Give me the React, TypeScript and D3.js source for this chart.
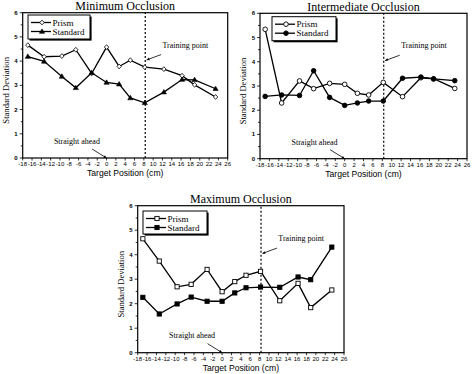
import * as React from 'react';
import * as d3 from 'd3';

// target positions (cm), shared by all three conditions
const targets = [-16.9, -13.4, -9.6, -6.6, -3.2, 0, 2.7, 5.1, 8.2, 12.3, 16.2, 18.9, 23.4];
const xTicks = d3.range(-18, 27, 2);
const yTicks = [0, 1, 2, 3, 4, 5, 6];
const trainingPoint = 8.3;

const minPrism = [4.66, 4.18, 4.21, 4.47, 3.49, 4.58, 3.78, 4.04, 3.75, 3.67, 3.4, 3.02, 2.52];
const minStandard = [4.19, 3.99, 3.37, 2.9, 3.52, 3.12, 3.05, 2.48, 2.28, 2.72, 3.24, 3.23, 2.86];

const intPrism = [5.34, 2.3, 3.21, 2.89, 3.11, 3.07, 2.7, 2.63, 3.15, 2.56, 3.34, 3.3, 2.9];
const intStandard = [2.57, 2.63, 2.61, 3.63, 2.53, 2.2, 2.3, 2.38, 2.38, 3.32, 3.37, 3.29, 3.22];

const maxPrism = [4.65, 3.74, 2.69, 2.79, 3.4, 2.49, 2.9, 3.16, 3.32, 2.12, 2.83, 1.84, 2.56];
const maxStandard = [2.26, 1.58, 1.99, 2.27, 2.1, 2.1, 2.44, 2.65, 2.68, 2.67, 3.09, 2.98, 4.31];

type Shape = 'diamond' | 'triangle' | 'circle' | 'square';

const serif = '"Liberation Serif", "DejaVu Serif", serif';
const sans = '"Liberation Sans", Arial, sans-serif';

function Marker({ shape, x, y, filled }: { shape: Shape; x: number; y: number; filled: boolean }) {
  const fill = filled ? '#000' : '#fff';
  if (shape === 'circle') {
    return <circle cx={x} cy={y} r={2.3} fill={fill} stroke="#000" strokeWidth={0.9} />;
  }
  if (shape === 'square') {
    return <rect x={x - 2.1} y={y - 2.1} width={4.2} height={4.2} fill={fill} stroke="#000" strokeWidth={0.9} />;
  }
  if (shape === 'triangle') {
    return <path d={`M${x},${y - 2.6}L${x + 2.6},${y + 1.8}L${x - 2.6},${y + 1.8}Z`} fill={fill} stroke="#000" strokeWidth={0.6} />;
  }
  return <path d={`M${x},${y - 2.4}L${x + 2.2},${y}L${x},${y + 2.4}L${x - 2.2},${y}Z`} fill={fill} stroke="#000" strokeWidth={0.8} />;
}

type PanelProps = {
  title: string;
  left: number; top: number; right: number; bottom: number;
  prism: number[]; standard: number[];
  prismShape: Shape; standardShape: Shape;
  legendDx: number; legendDy: number; legendW: number; legendH: number;
};

function Panel(p: PanelProps) {
  const x = d3.scaleLinear().domain([-18, 26]).range([p.left, p.right]);
  const y = d3.scaleLinear().domain([0, 6]).range([p.bottom, p.top]);
  const line = d3.line<number>().x((_, i) => x(targets[i])).y(d => y(d));
  const midY = (p.top + p.bottom) / 2 + 5;
  const lx = p.left + p.legendDx;
  const ly = p.top + p.legendDy;

  // annotation anchors in data units
  const tpText = [12.0, 4.55];
  const tpArrow = [[11.7, 4.27], [trainingPoint + 0.3, 4.05]];
  const saText = [-11.3, 0.58];
  const saArrow = [[-3.1, 0.37], [0, 0.0]];

  const arrowHead = (a: number[][]) => {
    const x1 = x(a[0][0]), y1 = y(a[0][1]), x2 = x(a[1][0]), y2 = y(a[1][1]);
    const ang = Math.atan2(y2 - y1, x2 - x1);
    const s = 3.2;
    const p1 = [x2 - s * Math.cos(ang - 0.45), y2 - s * Math.sin(ang - 0.45)];
    const p2 = [x2 - s * Math.cos(ang + 0.45), y2 - s * Math.sin(ang + 0.45)];
    return (
      <g>
        <line x1={x1} y1={y1} x2={x2} y2={y2} stroke="#000" strokeWidth={0.8} />
        <path d={`M${x2},${y2}L${p1[0]},${p1[1]}L${p2[0]},${p2[1]}Z`} fill="#000" />
      </g>
    );
  };

  return (
    <g>
      <text x={(p.left + p.right) / 2} y={p.top - 2.5} textAnchor="middle" fontFamily={serif} fontSize={12}>{p.title}</text>
      <rect x={p.left} y={p.top} width={p.right - p.left} height={p.bottom - p.top} fill="none" stroke="#000" strokeWidth={1.2} />
      {d3.range(0, 6.01, 0.5).map(v => (
        <line key={'yt' + v} x1={p.left - (v % 1 === 0 ? 3 : 2)} x2={p.left} y1={y(v)} y2={y(v)} stroke="#000" strokeWidth={0.8} />
      ))}
      {yTicks.map(v => (
        <text key={'yl' + v} x={p.left - 5} y={y(v) + 2} textAnchor="end" fontFamily={sans} fontSize={6} fontWeight="bold">{v}</text>
      ))}
      {xTicks.map(v => (
        <g key={'xt' + v}>
          <line x1={x(v)} x2={x(v)} y1={p.bottom} y2={p.bottom + 2.5} stroke="#000" strokeWidth={0.8} />
          <text x={x(v)} y={p.bottom + 8} textAnchor="middle" fontFamily={sans} fontSize={6}>{v}</text>
        </g>
      ))}
      <text x={(p.left + p.right) / 2} y={p.bottom + 18} textAnchor="middle" fontFamily={sans} fontSize={8.6}>Target Position (cm)</text>
      <text transform={`translate(${p.left - 14},${midY}) rotate(-90)`} textAnchor="middle" fontFamily={serif} fontSize={8.6}>Standard Deviation</text>

      <line x1={x(trainingPoint)} x2={x(trainingPoint)} y1={p.bottom} y2={p.top} stroke="#000" strokeWidth={1.2} strokeDasharray="2,2" />

      <text x={x(tpText[0])} y={y(tpText[1])} fontFamily={serif} fontSize={8}>Training point</text>
      {arrowHead(tpArrow)}
      <text x={x(saText[0])} y={y(saText[1])} fontFamily={serif} fontSize={8}>Straight ahead</text>
      {arrowHead(saArrow)}

      <path d={line(p.prism) || ''} fill="none" stroke="#000" strokeWidth={1.3} />
      <path d={line(p.standard) || ''} fill="none" stroke="#000" strokeWidth={1.3} />
      {p.prism.map((d, i) => <Marker key={'p' + i} shape={p.prismShape} x={x(targets[i])} y={y(d)} filled={false} />)}
      {p.standard.map((d, i) => <Marker key={'s' + i} shape={p.standardShape} x={x(targets[i])} y={y(d)} filled={true} />)}

      <rect x={lx + 1.6} y={ly + 1.6} width={p.legendW} height={p.legendH} fill="#000" />
      <rect x={lx} y={ly} width={p.legendW} height={p.legendH} fill="#fff" stroke="#000" strokeWidth={1} />
      {[{ label: 'Prism', shape: p.prismShape, filled: false }, { label: 'Standard', shape: p.standardShape, filled: true }].map((e, i) => {
        const cy = ly + 7.5 + i * 9;
        return (
          <g key={e.label}>
            <line x1={lx + 3} x2={lx + 23} y1={cy} y2={cy} stroke="#000" strokeWidth={1.3} />
            <Marker shape={e.shape} x={lx + 14} y={cy} filled={e.filled} />
            <text x={lx + 24.5} y={cy + 3} fontFamily={serif} fontSize={9}>{e.label}</text>
          </g>
        );
      })}
    </g>
  );
}

export default function App() {
  return (
    <svg width={474} height={374} style={{ position: 'absolute', left: 0, top: 0, background: '#fff' }}>
      <Panel title="Minimum Occlusion" left={22.7} top={12.7} right={227.7} bottom={158}
        prism={minPrism} standard={minStandard} prismShape="diamond" standardShape="triangle"
        legendDx={5.3} legendDy={2.3} legendW={62} legendH={24} />
      <Panel title="Intermediate Occlusion" left={260} top={13.3} right={467} bottom={158.7}
        prism={intPrism} standard={intStandard} prismShape="circle" standardShape="circle"
        legendDx={12} legendDy={3.4} legendW={64} legendH={24} />
      <Panel title="Maximum Occlusion" left={137.7} top={205.7} right={344} bottom={352.7}
        prism={maxPrism} standard={maxStandard} prismShape="square" standardShape="square"
        legendDx={5.3} legendDy={5.3} legendW={64} legendH={23} />
    </svg>
  );
}
